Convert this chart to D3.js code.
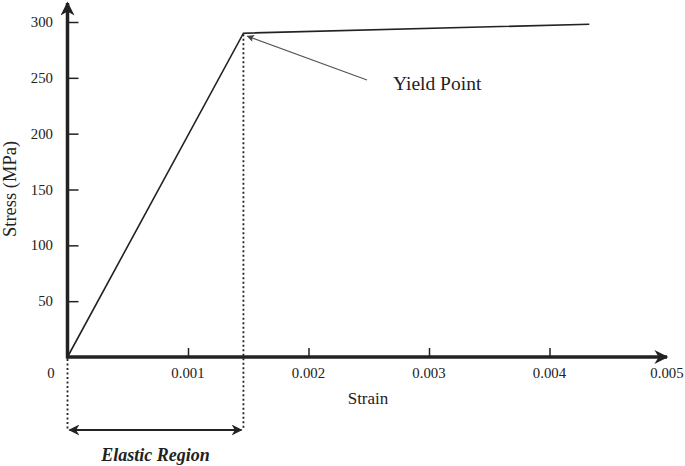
<!DOCTYPE html>
<html lang="en">
<head>
<meta charset="UTF-8" />
<title>Stress-Strain</title>
<script src="https://d3js.org/d3.v7.min.js"></script>
<style>
  body { margin: 0; background: #fff; }
  text { font-family: "Liberation Serif", "Times New Roman", serif; fill: #222; }
</style>
</head>
<body>
<script>
// data
const strain = [0, 0.00146, 0.00433];
const stress = [0, 290, 298];
const xTicks = [0.001, 0.002, 0.003, 0.004];
const xTickLabels = ["0.001", "0.002", "0.003", "0.004"];
const yTicks = [50, 100, 150, 200, 250, 300];
const yieldStrain = 0.00146;

const W = 685, H = 466;
const svg = d3.select("body").append("svg").attr("width", W).attr("height", H);

const x = d3.scaleLinear().domain([0, 0.005]).range([67.5, 670]);
const y = d3.scaleLinear().domain([0, 300]).range([357, 22]);

const defs = svg.append("defs");
defs.append("marker").attr("id", "head").attr("viewBox", "0 0 10 10")
  .attr("refX", 9).attr("refY", 5).attr("markerWidth", 5).attr("markerHeight", 5)
  .attr("markerUnits", "strokeWidth").attr("orient", "auto-start-reverse")
  .append("path").attr("d", "M0,0 L10,5 L0,10 L3,5 Z").attr("fill", "#222");
defs.append("marker").attr("id", "big").attr("viewBox", "0 0 10 10")
  .attr("refX", 9).attr("refY", 5).attr("markerWidth", 4.5).attr("markerHeight", 4)
  .attr("markerUnits", "strokeWidth").attr("orient", "auto-start-reverse")
  .append("path").attr("d", "M0,0 L10,5 L0,10 L3,5 Z").attr("fill", "#222");
defs.append("marker").attr("id", "thin").attr("viewBox", "0 0 10 10")
  .attr("refX", 9).attr("refY", 5).attr("markerWidth", 9).attr("markerHeight", 6)
  .attr("markerUnits", "strokeWidth").attr("orient", "auto")
  .append("path").attr("d", "M0,0 L10,5 L0,10 L2,5 Z").attr("fill", "#444");

// axes (ticks inside, labels separately)
const xAxis = d3.axisTop(x).tickValues(xTicks).tickSize(9).tickFormat("");
svg.append("g").attr("transform", `translate(0,${y(0)})`).call(xAxis)
  .call(g => g.select(".domain").remove())
  .selectAll("line").attr("stroke", "#222").attr("stroke-width", 1.5);
const yAxis = d3.axisRight(y).tickValues(yTicks).tickSize(11).tickFormat("");
svg.append("g").attr("transform", `translate(${x(0)},0)`).call(yAxis)
  .call(g => g.select(".domain").remove())
  .selectAll("line").attr("stroke", "#222").attr("stroke-width", 1.5);

svg.append("line").attr("x1", x(0) - 1).attr("y1", y(0)).attr("x2", x(0.005) - 3).attr("y2", y(0))
  .attr("stroke", "#222").attr("stroke-width", 3.5).attr("marker-end", "url(#big)");
svg.append("line").attr("x1", x(0)).attr("y1", y(0) + 1.5).attr("x2", x(0)).attr("y2", 3)
  .attr("stroke", "#222").attr("stroke-width", 3.5).attr("marker-end", "url(#big)");

svg.selectAll(".xl").data(xTicks).join("text")
  .attr("x", d => x(d)).attr("y", y(0) + 21).attr("text-anchor", "middle")
  .attr("font-size", 14.8).text((d, i) => xTickLabels[i]);
svg.append("text").attr("x", x(0.005) - 3).attr("y", y(0) + 21).attr("text-anchor", "middle")
  .attr("font-size", 14.8).text("0.005");
svg.append("text").attr("x", 51).attr("y", y(0) + 21).attr("text-anchor", "middle")
  .attr("font-size", 14.8).text("0");
svg.selectAll(".yl").data(yTicks).join("text")
  .attr("x", 53).attr("y", d => y(d) + 5).attr("text-anchor", "end")
  .attr("font-size", 14.8).text(d => d);

svg.append("text").attr("x", 368).attr("y", 404).attr("text-anchor", "middle")
  .attr("font-size", 17).text("Strain");
svg.append("text").attr("transform", "translate(16,189) rotate(-90)").attr("text-anchor", "middle")
  .attr("font-size", 18.5).text("Stress (MPa)");

// stress-strain curve
const pts = strain.map((s, i) => [x(s), y(stress[i])]);
svg.append("path").attr("d", d3.line()(pts)).attr("fill", "none")
  .attr("stroke", "#222").attr("stroke-width", 1.6);

// dotted guides
const bottom = 430;
[0, yieldStrain].forEach(s => {
  svg.append("line").attr("x1", x(s)).attr("x2", x(s))
    .attr("y1", s === 0 ? y(0) + 2 : y(stress[1]) + 1).attr("y2", bottom)
    .attr("stroke", "#222").attr("stroke-width", 1.8).attr("stroke-dasharray", "2,2.5");
});
svg.append("line").attr("x1", x(0) + 2).attr("x2", x(yieldStrain) - 2).attr("y1", bottom).attr("y2", bottom)
  .attr("stroke", "#222").attr("stroke-width", 2.2)
  .attr("marker-start", "url(#head)").attr("marker-end", "url(#head)");
svg.append("text").attr("x", (x(0) + x(yieldStrain)) / 2).attr("y", 461).attr("text-anchor", "middle")
  .attr("font-size", 18).attr("font-weight", "bold").attr("font-style", "italic").text("Elastic Region");

// yield annotation
svg.append("line").attr("x1", 367).attr("y1", 80).attr("x2", x(yieldStrain) + 4).attr("y2", y(stress[1]) + 3)
  .attr("stroke", "#555").attr("stroke-width", 1.2).attr("marker-end", "url(#thin)");
svg.append("text").attr("x", 393).attr("y", 90).attr("font-size", 19.5).text("Yield Point");
</script>
</body>
</html>
